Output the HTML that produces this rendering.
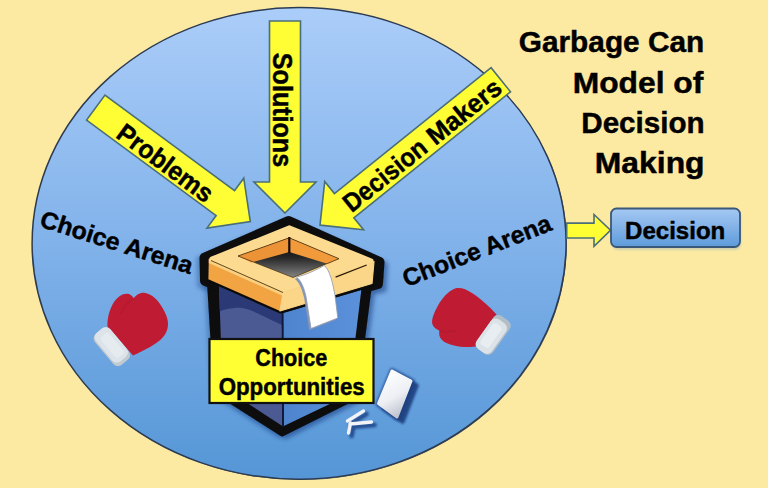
<!DOCTYPE html>
<html>
<head>
<meta charset="utf-8">
<title>Garbage Can Model of Decision Making</title>
<style>
html,body{margin:0;padding:0;background:#FDEAA2;overflow:hidden;}
body{width:768px;height:488px;font-family:"Liberation Sans",sans-serif;}
svg{display:block;}
text{font-family:"Liberation Sans",sans-serif;font-weight:bold;fill:#000;stroke:#000;stroke-width:0.45px;}
</style>
</head>
<body>
<svg width="768" height="488" viewBox="0 0 768 488">
<defs>
  <linearGradient id="gEll" x1="0" y1="0" x2="0" y2="1">
    <stop offset="0" stop-color="#ABCDF9"/>
    <stop offset="0.5" stop-color="#81B2EA"/>
    <stop offset="1" stop-color="#5596D6"/>
  </linearGradient>
  <linearGradient id="gBox" x1="0" y1="0" x2="0" y2="1">
    <stop offset="0" stop-color="#A5C8F3"/>
    <stop offset="1" stop-color="#5E9BDA"/>
  </linearGradient>
  <linearGradient id="gBodyL" x1="0" y1="0" x2="1" y2="0">
    <stop offset="0" stop-color="#2E4C95"/>
    <stop offset="0.35" stop-color="#4467B5"/>
    <stop offset="1" stop-color="#2F4F9A"/>
  </linearGradient>
  <linearGradient id="gBodyR" x1="0" y1="0" x2="1" y2="0">
    <stop offset="0" stop-color="#4E83CE"/>
    <stop offset="1" stop-color="#5B90DB"/>
  </linearGradient>
  <linearGradient id="gHole" x1="0" y1="0" x2="0" y2="1">
    <stop offset="0" stop-color="#030303"/>
    <stop offset="0.5" stop-color="#262626"/>
    <stop offset="1" stop-color="#858585"/>
  </linearGradient>
  <linearGradient id="gPaper" x1="0.3" y1="0" x2="0.7" y2="1">
    <stop offset="0" stop-color="#FFFFFF"/>
    <stop offset="0.55" stop-color="#EDEFF4"/>
    <stop offset="1" stop-color="#B9BECB"/>
  </linearGradient>
  <filter id="blur05" x="-10%" y="-10%" width="120%" height="120%"><feGaussianBlur stdDeviation="0.6"/></filter>
  <filter id="blur2" x="-20%" y="-20%" width="140%" height="140%"><feGaussianBlur stdDeviation="2"/></filter>
  <filter id="blur1" x="-20%" y="-20%" width="140%" height="140%"><feGaussianBlur stdDeviation="0.8"/></filter>
</defs>

<!-- background -->
<rect x="0" y="0" width="768" height="488" fill="#FDEAA2"/>

<!-- arena ellipse -->
<ellipse cx="299.9" cy="244.2" rx="267" ry="235.8" fill="#33435a" opacity="0.85"/>
<ellipse cx="299.1" cy="243.4" rx="267" ry="235.8" fill="url(#gEll)" stroke="#2D3B52" stroke-width="1.5"/>

<!-- arrows -->
<g fill="#FFFD33" stroke="#4B6F78" stroke-width="1.6" stroke-linejoin="miter">
  <path d="M0 0 L-31 -31 L-31 -15.5 L-192 -15.5 L-192 15.5 L-31 15.5 L-31 31 Z" transform="translate(250.3 221.5) rotate(36.4)"/>
  <path d="M0 0 L-31 -31 L-31 -15.5 L-192 -15.5 L-192 15.5 L-31 15.5 L-31 31 Z" transform="translate(285 213) rotate(90)"/>
  <path d="M0 0 L-31 -31 L-31 -15.5 L-232 -15.5 L-232 15.5 L-31 15.5 L-31 31 Z" transform="translate(320 225.1) rotate(141.2)"/>
  <path d="M566.7 223.1 L594 223.1 L594 214.5 L610.5 230.2 L594 246.3 L594 238 L566.7 238 Z"/>
</g>

<!-- arrow labels -->
<text font-size="26" text-anchor="middle" textLength="112.5" lengthAdjust="spacingAndGlyphs" transform="translate(165.5 162.8) rotate(36.4)" x="0" y="9.2">Problems</text>
<text font-size="26.8" text-anchor="middle" textLength="114.3" lengthAdjust="spacingAndGlyphs" transform="translate(285 110) rotate(90)" x="0" y="12">Solutions</text>
<g font-size="26" transform="translate(320 225.1) rotate(-38.8)">
  <text x="32.1" y="10.6" textLength="99.5" lengthAdjust="spacingAndGlyphs">Decision</text>
  <text x="139.6" y="10.6" textLength="87.7" lengthAdjust="spacingAndGlyphs">Makers</text>
</g>

<!-- Choice Arena labels -->
<text font-size="24.3" textLength="158.6" lengthAdjust="spacingAndGlyphs" transform="translate(38.6 226.2) rotate(17.6)" x="0" y="0">Choice Arena</text>
<text font-size="24.3" textLength="157.6" lengthAdjust="spacingAndGlyphs" transform="translate(406.5 287.2) rotate(-21.4)" x="0" y="0">Choice Arena</text>

<!-- title -->
<g font-size="29" text-anchor="end">
  <text x="704.2" y="52" textLength="185.4" lengthAdjust="spacingAndGlyphs">Garbage Can</text>
  <text x="703.3" y="92.6" textLength="130.6" lengthAdjust="spacingAndGlyphs">Model of</text>
  <text x="704.6" y="133.2" textLength="123.3" lengthAdjust="spacingAndGlyphs">Decision</text>
  <text x="704.6" y="173.3" textLength="109.8" lengthAdjust="spacingAndGlyphs">Making</text>
</g>

<!-- Decision box -->
<rect x="612" y="211" width="129" height="39" rx="6" fill="#7f9fbf" opacity="0.35" filter="url(#blur1)"/>
<rect x="611" y="208.5" width="129" height="38.5" rx="5.5" fill="url(#gBox)" stroke="#3B5777" stroke-width="1.8"/>
<text x="675.2" y="238.5" font-size="24" text-anchor="middle" textLength="100.2" lengthAdjust="spacingAndGlyphs">Decision</text>

<!-- GARBAGE CAN -->
<g id="can">
  <!-- soft shadow -->
  <path d="M288.5 217 L199 255.5 L200 285 L207.5 289 L214 393 L282 436.5 L357 399 L371.5 291 L383 289 L384.5 260 Z" fill="#234a8c" opacity="0.6" filter="url(#blur2)" transform="translate(3.5 3)"/>
  <path d="M288.5 217 L199 255.5 L200 285 L207.5 289 L214 393 L282 436.5 L357 399 L371.5 291 L383 289 L384.5 260 Z" fill="#2c5598" opacity="0.45" filter="url(#blur2)" transform="translate(-3 2)"/>
  <!-- black silhouette -->
  <path d="M209.5 284 L216 392 L282 434 L355 397.5 L369.5 286 Z" fill="#0b0b0d" stroke="#0b0b0d" stroke-width="4.8" stroke-linejoin="round" filter="url(#blur05)"/>
  <path d="M288.5 221.6 L205 258 L205.5 280.5 L281 312 L377.5 283.5 L379 262.2 Z" fill="#0b0b0d" stroke="#0b0b0d" stroke-width="11" stroke-linejoin="round" filter="url(#blur05)"/>
  <!-- body faces -->
  <path d="M219 285.5 L282 312.5 L282.3 426 L222.5 387 Z" fill="#4C5A93"/>
  <path d="M219 285.5 L282 312.5 L282 325 C272 320.5 262 315.5 258 313.5 C250 309.5 243 307.5 237 307.8 C230 308 224 309.5 219.8 311.5 Z" fill="#2B3A76"/>
  <path d="M283.3 313 L361.3 290 L348.5 395 L283.8 426 Z" fill="url(#gBodyR)"/>
  <path d="M282.5 312 L283 427" stroke="#10183a" stroke-width="1.7"/>
  <path d="M207 279.5 L280.5 312.3 L374 284.8" fill="none" stroke="#0b0b0d" stroke-width="2.6" stroke-linejoin="round"/>
  <!-- rim faces -->
  <path d="M208.8 259 L283 292.5 L280 311 L208.4 279.2 Z" fill="#F2A443"/>
  <path d="M208.8 258.5 L283 291.5 L283 296 L208.8 263 Z" fill="#FAD07F"/>
  <path d="M283 292.5 L374 261.5 L372 283.5 L280 311 Z" fill="#FBD688" stroke="#FBD688" stroke-width="1.2" stroke-linejoin="round"/>
  <!-- rim top -->
  <path d="M289.3 227.3 L211.5 258.7 L283 290.3 L371.5 260.5 Z" fill="#FCDA90" stroke="#FCDA90" stroke-width="4" stroke-linejoin="round"/>
  <!-- rim edge lines -->
  <path d="M211 260.5 L283 292.5" fill="none" stroke="#3a2408" stroke-width="1" opacity="0.8"/>
  <path d="M335.6 277.2 L366.7 265" fill="none" stroke="#2a1a05" stroke-width="1.3"/>
  <!-- hole -->
  <path d="M289.3 237.8 L238 256 L293 277.5 L339 258.7 Z" fill="url(#gHole)"/>
  <path d="M289.3 237.8 L238 256 L251.2 262.6 L289.3 252 Z" fill="#EC9337"/>
  <path d="M289.3 237.8 L339 258.7 L328 264 L289.3 252 Z" fill="#F09A3C"/>
  <path d="M289.3 237 L289.3 253" stroke="#140a00" stroke-width="2.2"/>
  <path d="M289.3 237.8 L238 256 L293 277.5 L339 258.7 Z" fill="none" stroke="#3a2408" stroke-width="0.9" opacity="0.75"/>
  <!-- paper -->
  <path d="M296.5 277.5 C304 276 318 270 324 266 C330 270 333 285 335 296 L337.8 318.5 L311 329 L306 297 C304 288 301 281 296.5 277.5 Z" fill="#8696b6" transform="translate(-1.8 1.2)"/>
  <path d="M296.5 277 C304 275.5 318 269.5 324 265.5 C330 269.5 333 284.5 335 295.5 L337.8 318 L311 328.5 L306 296.5 C304 287.5 301 280.5 296.5 277 Z" fill="#FFFFFF" stroke="#8C98B0" stroke-width="0.8"/>
</g>

<!-- crumpled paper + scraps -->
<g id="scraps">
  <path d="M392 371 L411 381 L397 417 L378.5 403.5 Z" fill="#234a8e" stroke="#234a8e" stroke-width="7" stroke-linejoin="round" opacity="0.7" filter="url(#blur1)" transform="translate(0.5 0.5)"/>
  <path d="M392 371 L411 381 L397 417 L378.5 403.5 Z" fill="#1d3d7e" stroke="#1d3d7e" stroke-width="4.5" stroke-linejoin="round" opacity="0.9" filter="url(#blur1)" transform="translate(5.5 4.5)"/>
  <path d="M392 371 L411 381 L397 417 L378.5 403.5 Z" fill="url(#gPaper)" stroke="url(#gPaper)" stroke-width="3" stroke-linejoin="round"/>
  <g stroke="#1f4285" stroke-width="4.6" stroke-linecap="round" fill="none" opacity="0.85" filter="url(#blur1)" transform="translate(3 3)">
    <path d="M347.5 421 L363.5 411"/><path d="M350 424 L371.5 422"/><path d="M350.5 423 L348.5 433"/>
  </g>
  <g stroke="#F1F3F8" stroke-width="3.4" stroke-linecap="round" fill="none">
    <path d="M347.5 421 L363.5 411"/><path d="M350 424 L371.5 422"/><path d="M350.5 423 L348.5 433"/>
  </g>
</g>

<!-- left glove -->
<g id="gloveL">
  <path d="M107.5 326.5 C107 318 110 308 114 302 C118 296 124 292.5 129 294 C131.5 295 133 297 133.5 298.5 C136 295 140 292.5 144 292.8 C150 293.5 156 298 160 304 C165 311 168.5 319 168 325 C167.5 332 164 337 159 341 C152 346.5 142 351.5 133 355.5 Z" fill="#BF1C33"/>
  <path d="M133.5 298.5 C129 301 124 306 121 313" fill="none" stroke="#A3142A" stroke-width="2" stroke-linecap="round" opacity="0.3"/>
  <g transform="translate(112 346.2) rotate(50)">
    <rect x="-20" y="-9.6" width="40.5" height="20" rx="6" fill="#C2CAD1"/>
    <rect x="-20" y="-9.6" width="37" height="18.6" rx="6" fill="#DDE4E9"/>
    <rect x="-14" y="-6" width="27" height="10.5" rx="3.5" fill="#E6EBEF"/>
  </g>
</g>

<!-- right glove -->
<g id="gloveR">
  <path d="M477 346 L496.5 314.5 C490 307 481 299 472 293 C466 289 460 287 455 288.5 C448 291 442 298.5 438 305.5 C434 312.5 431 320 432.5 324.5 C433.5 327.5 436.5 329.5 439.5 330.5 C438.5 334 439.5 337.5 442 340 C446 344 455 346.5 464 347 C469 347.3 474 347 477 346 Z" fill="#BF1C33"/>
  <path d="M439.5 330.5 C444 332 450 332 455 331" fill="none" stroke="#A3142A" stroke-width="2" stroke-linecap="round" opacity="0.3"/>
  <g transform="translate(492.9 335) rotate(-54.6)">
    <rect x="-20" y="-9.8" width="40.5" height="20" rx="6" fill="#B3BDC5"/>
    <rect x="-20" y="-9.8" width="36.2" height="18.4" rx="6" fill="#DCE3E8"/>
    <rect x="-14.5" y="-6.5" width="26" height="10.5" rx="3.5" fill="#E8EDF1"/>
  </g>
</g>

<!-- label box -->
<rect x="209.5" y="339" width="164" height="64" fill="#FFFF33" stroke="#111" stroke-width="2.2"/>
<text x="291.3" y="366" font-size="23.2" text-anchor="middle" textLength="72" lengthAdjust="spacingAndGlyphs">Choice</text>
<text x="291.7" y="395.3" font-size="23.2" text-anchor="middle" textLength="146" lengthAdjust="spacingAndGlyphs">Opportunities</text>

</svg>
</body>
</html>
